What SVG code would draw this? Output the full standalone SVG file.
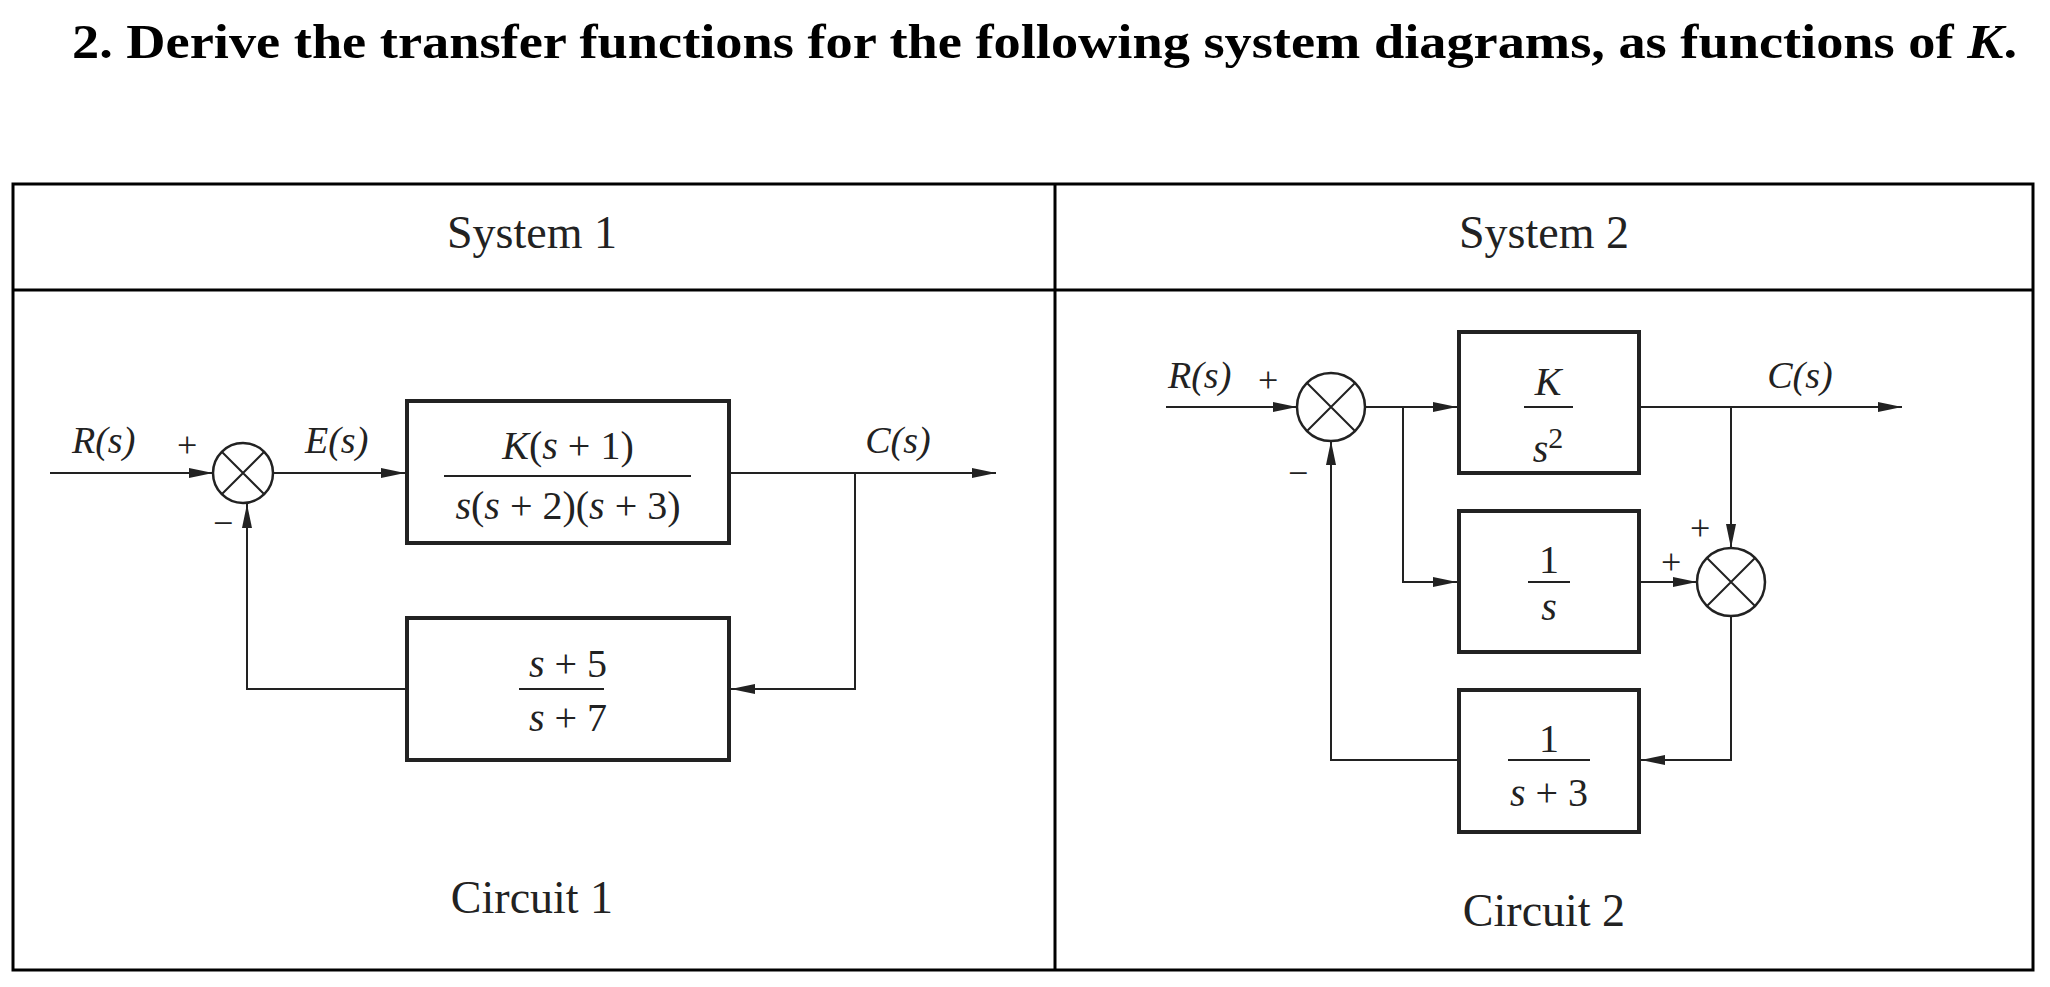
<svg xmlns="http://www.w3.org/2000/svg" width="2050" height="987" viewBox="0 0 2050 987">
<defs>
<marker id="ah" markerWidth="24" markerHeight="10" refX="24" refY="5" orient="auto" markerUnits="userSpaceOnUse"><path d="M0,0 L24,5 L0,10 Z" fill="#222"/></marker>
<style>
text{font-family:"Liberation Serif","Times New Roman",serif;fill:#222}
.t{font-size:40px;text-anchor:middle}
.l{font-size:38px}
.pm{font-size:36px}
.i{font-style:italic}
.blk{fill:none;stroke:#222;stroke-width:4}
.c{stroke:#222;stroke-width:2;fill:none}
.sum{fill:#fff;stroke:#222;stroke-width:2.5}
.fr{stroke:#222;stroke-width:2}
</style>
</defs>
<rect width="2050" height="987" fill="#fff"/>
<text x="72" y="58" style="font-size:48px;font-weight:bold;fill:#000" textLength="1945" lengthAdjust="spacingAndGlyphs">2.  Derive the transfer functions for the following system diagrams, as functions of <tspan font-style="italic">K</tspan>.</text>
<g id="table" fill="none" stroke="#000" stroke-width="3">
<rect x="13" y="184" width="2020" height="786"/>
<line x1="13" y1="290" x2="2033" y2="290"/>
<line x1="1055" y1="184" x2="1055" y2="970"/>
</g>
<text class="t" x="532" y="248" style="font-size:46px">System 1</text>
<text class="t" x="1544" y="248" style="font-size:46px">System 2</text>
<text class="t" x="532" y="913" style="font-size:46px">Circuit 1</text>
<text class="t" x="1544" y="926" style="font-size:46px">Circuit 2</text>

<g id="connectors">
<path class="c" d="M50,473 H213" marker-end="url(#ah)"/>
<path class="c" d="M273,473 H405" marker-end="url(#ah)"/>
<path class="c" d="M729,473 H996" marker-end="url(#ah)"/>
<path class="c" d="M855,473 V689 H731" marker-end="url(#ah)"/>
<path class="c" d="M407,689 H247 V504" marker-end="url(#ah)"/>

<path class="c" d="M1166,407 H1297" marker-end="url(#ah)"/>
<path class="c" d="M1365,407 H1457" marker-end="url(#ah)"/>
<path class="c" d="M1403,407 V582 H1457" marker-end="url(#ah)"/>
<path class="c" d="M1639,407 H1902" marker-end="url(#ah)"/>
<path class="c" d="M1731,407 V548" marker-end="url(#ah)"/>
<path class="c" d="M1639,582 H1697" marker-end="url(#ah)"/>
<path class="c" d="M1731,616 V760 H1641" marker-end="url(#ah)"/>
<path class="c" d="M1459,760 H1331 V441" marker-end="url(#ah)"/>
</g>

<g id="c1-labels">
<text class="l i" x="72" y="453">R(s)</text>
<text class="pm" x="177" y="457">+</text>
<text class="pm" x="213" y="535">−</text>
<text class="l i" x="305" y="453">E(s)</text>
<text class="l i" x="898" y="453" text-anchor="middle">C(s)</text>
</g>
<g id="c1-sum"><circle class="sum" cx="243" cy="473" r="30"/><path class="c" d="M222,452 L264,494 M264,452 L222,494"/></g>
<g id="c1-G">
<rect class="blk" x="407" y="401" width="322" height="142"/>
<text class="t" x="568" y="459"><tspan font-style="italic">K</tspan>(<tspan font-style="italic">s</tspan> + 1)</text>
<line class="fr" x1="444" y1="476" x2="691" y2="476"/>
<text class="t" x="568" y="519"><tspan font-style="italic">s</tspan>(<tspan font-style="italic">s</tspan> + 2)(<tspan font-style="italic">s</tspan> + 3)</text>
</g>
<g id="c1-H">
<rect class="blk" x="407" y="618" width="322" height="142"/>
<text class="t" x="568" y="677"><tspan font-style="italic">s</tspan> + 5</text>
<line class="fr" x1="519" y1="689" x2="604" y2="689"/>
<text class="t" x="568" y="731"><tspan font-style="italic">s</tspan> + 7</text>
</g>

<g id="c2-labels">
<text class="l i" x="1168" y="388">R(s)</text>
<text class="pm" x="1258" y="392">+</text>
<text class="pm" x="1288" y="485">−</text>
<text class="l i" x="1800" y="388" text-anchor="middle">C(s)</text>
<text class="pm" x="1690" y="540">+</text>
<text class="pm" x="1661" y="574">+</text>
</g>
<g id="c2-sum1"><circle class="sum" cx="1331" cy="407" r="34"/><path class="c" d="M1307,383 L1355,431 M1355,383 L1307,431"/></g>
<g id="c2-sum2"><circle class="sum" cx="1731" cy="582" r="34"/><path class="c" d="M1707,558 L1755,606 M1755,558 L1707,606"/></g>
<g id="c2-G1">
<rect class="blk" x="1459" y="332" width="180" height="141"/>
<text class="t i" x="1548" y="395">K</text>
<line class="fr" x1="1524" y1="407" x2="1573" y2="407"/>
<text class="t" x="1548" y="462"><tspan font-style="italic">s</tspan><tspan dy="-14" style="font-size:30px">2</tspan></text>
</g>
<g id="c2-G2">
<rect class="blk" x="1459" y="511" width="180" height="141"/>
<text class="t" x="1549" y="573">1</text>
<line class="fr" x1="1528" y1="582" x2="1570" y2="582"/>
<text class="t i" x="1549" y="620">s</text>
</g>
<g id="c2-H">
<rect class="blk" x="1459" y="690" width="180" height="142"/>
<text class="t" x="1549" y="752">1</text>
<line class="fr" x1="1508" y1="760" x2="1590" y2="760"/>
<text class="t" x="1549" y="806"><tspan font-style="italic">s</tspan> + 3</text>
</g>
</svg>
